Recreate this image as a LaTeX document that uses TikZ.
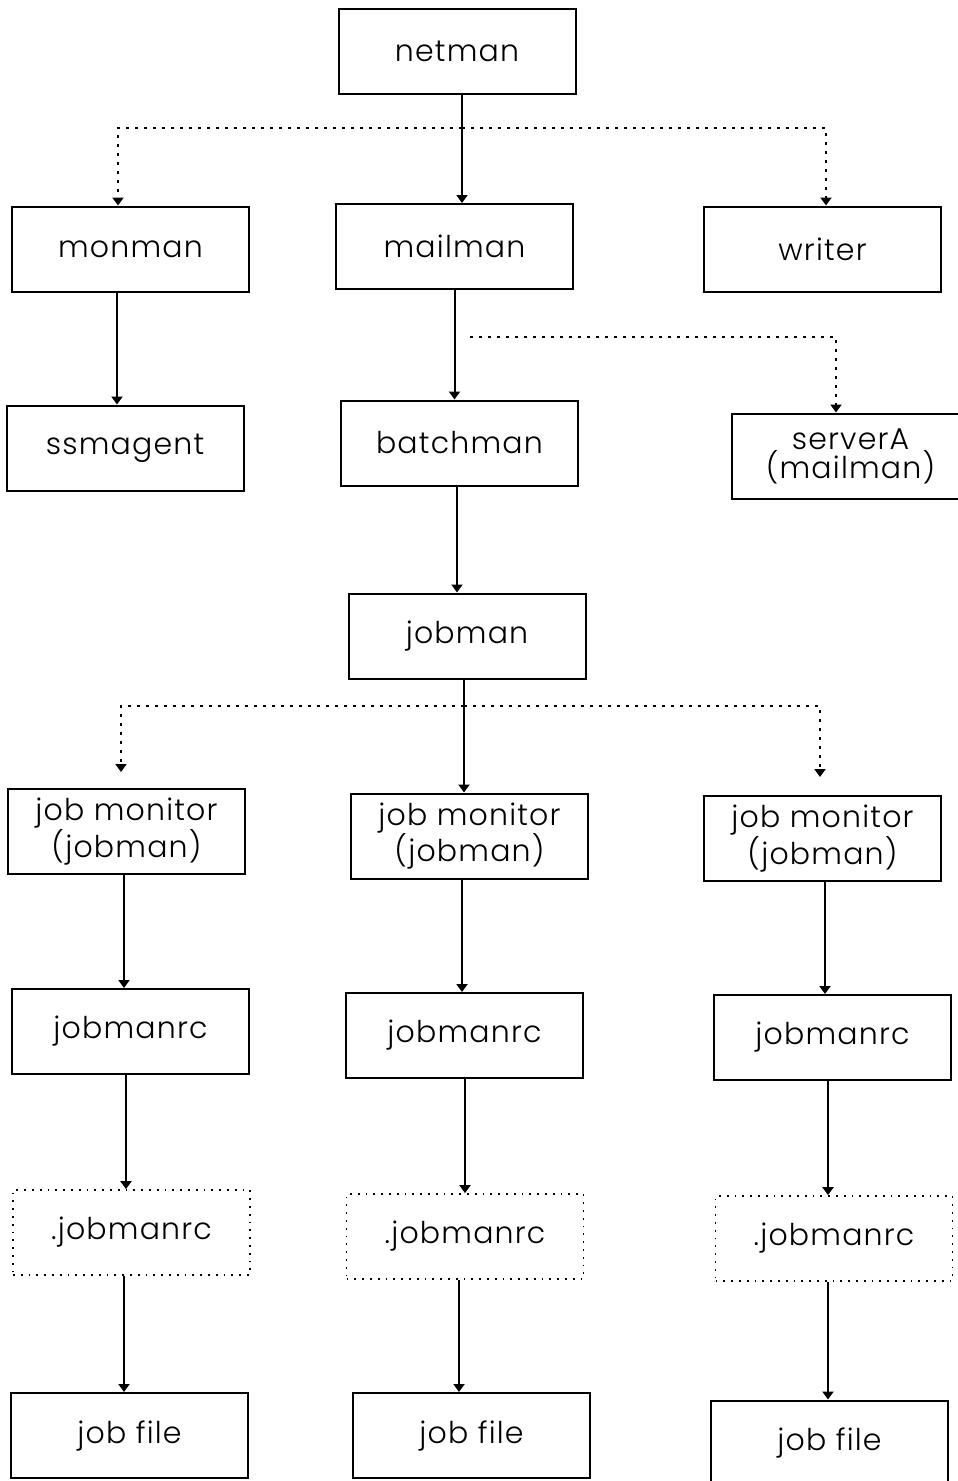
\documentclass[tikz,border=0pt]{standalone}
\usepackage{fontspec}
\setmainfont{Poppins Light}[LetterSpace=4]
\usetikzlibrary{arrows.meta,calc}
\begin{document}
\begin{tikzpicture}[x=1pt,y=-1pt,
  box/.style={draw, line width=2pt, minimum width=237pt, minimum height=85pt,
    inner sep=0pt, align=center, font=\fontsize{30}{29}\selectfont},
  dotbox/.style={box, line width=1.8pt, dash pattern=on 1.8pt off 6pt},
  flow/.style={line width=2pt, -{Triangle[width=11pt,length=8pt]}},
  branch/.style={line width=2pt, dash pattern=on 3pt off 6pt},
  dflow/.style={branch, -{Triangle[width=11pt,length=8pt]}}]
\useasboundingbox (0,0) rectangle (958,1481);

% top level
\node[box] (netman)   at (457,51)     {netman};
\node[box] (monman)   at (130.5,249)  {monman};
\node[box] (mailman)  at (454.5,246.5){mailman};
\node[box] (writer)   at (822.5,249)  {writer};
\node[box] (ssmagent) at (125,448)    {ssmagent};
\node[box] (batchman) at (459.5,443)  {batchman};
\node[box] (serverA)  at (850.5,456)  {serverA\\(mailman)};
\node[box] (jobman)   at (467,636)    {jobman};

% three job columns
\node[box] (jm1) at (126.5,831.5) {job monitor\\(jobman)};
\node[box] (jm2) at (469.5,836)   {job monitor\\(jobman)};
\node[box] (jm3) at (822.5,838.5) {job monitor\\(jobman)};
\node[box] (rc1) at (130.5,1031.5){jobmanrc};
\node[box] (rc2) at (464.5,1035.5){jobmanrc};
\node[box] (rc3) at (832.5,1037.5){jobmanrc};
\node[dotbox] (drc1) at (131.5,1232.5){.jobmanrc};
\node[dotbox] (drc2) at (465,1236.5)  {.jobmanrc};
\node[dotbox] (drc3) at (834,1238.5)  {.jobmanrc};
\node[box] (jf1) at (129.5,1435.5){job file};
\node[box] (jf2) at (471.5,1435.5){job file};
\node[box] (jf3) at (829.5,1443)  {job file};

% netman and its children
\draw[flow] ([xshift=5pt]netman.south) -- ([xshift=5pt]netman.south |- mailman.north);
\coordinate (t1) at (462,128);
\draw[dflow] (t1) -| ([xshift=-12.5pt]monman.north);
\draw[dflow] (t1) -| ([xshift=3.5pt]writer.north);
\draw[flow] ([xshift=-13.5pt]monman.south) -- ([xshift=-13.5pt]monman.south |- ssmagent.north);

% mailman and its children
\draw[flow] (mailman.south) -- (mailman.south |- batchman.north);
\coordinate (t2) at (470,337);
\draw[dflow] (t2) -| ([xshift=-14.5pt]serverA.north);
\draw[flow] ([xshift=-2.5pt]batchman.south) -- ([xshift=-2.5pt]batchman.south |- jobman.north);

% jobman and the job monitors
\draw[flow] ([xshift=-3pt]jobman.south) -- ([xshift=-3pt]jobman.south |- jm2.north);
\coordinate (t3) at (464,706);
\draw[dflow] (t3) -| ([xshift=-5.5pt,yshift=16pt]jm1.north);
\draw[dflow] (t3) -| ([xshift=-2.5pt,yshift=18pt]jm3.north);

% column chains
\draw[flow] ([xshift=-2.5pt]jm1.south) -- ([xshift=-2.5pt]jm1.south |- rc1.north);
\draw[flow] ([xshift=-4.5pt]rc1.south) -- ([xshift=-4.5pt]rc1.south |- drc1.north);
\draw[flow] ([xshift=-7.5pt]drc1.south) -- ([xshift=-7.5pt]drc1.south |- jf1.north);
\draw[flow] ([xshift=-7.5pt]jm2.south) -- ([xshift=-7.5pt]jm2.south |- rc2.north);
\draw[flow] ([xshift=0.5pt]rc2.south) -- ([xshift=0.5pt]rc2.south |- drc2.north);
\draw[flow] ([xshift=-6pt]drc2.south) -- ([xshift=-6pt]drc2.south |- jf2.north);
\draw[flow] ([xshift=2.5pt]jm3.south) -- ([xshift=2.5pt]jm3.south |- rc3.north);
\draw[flow] ([xshift=-4.5pt]rc3.south) -- ([xshift=-4.5pt]rc3.south |- drc3.north);
\draw[flow] ([xshift=-6pt]drc3.south) -- ([xshift=-6pt]drc3.south |- jf3.north);
\end{tikzpicture}
\end{document}
